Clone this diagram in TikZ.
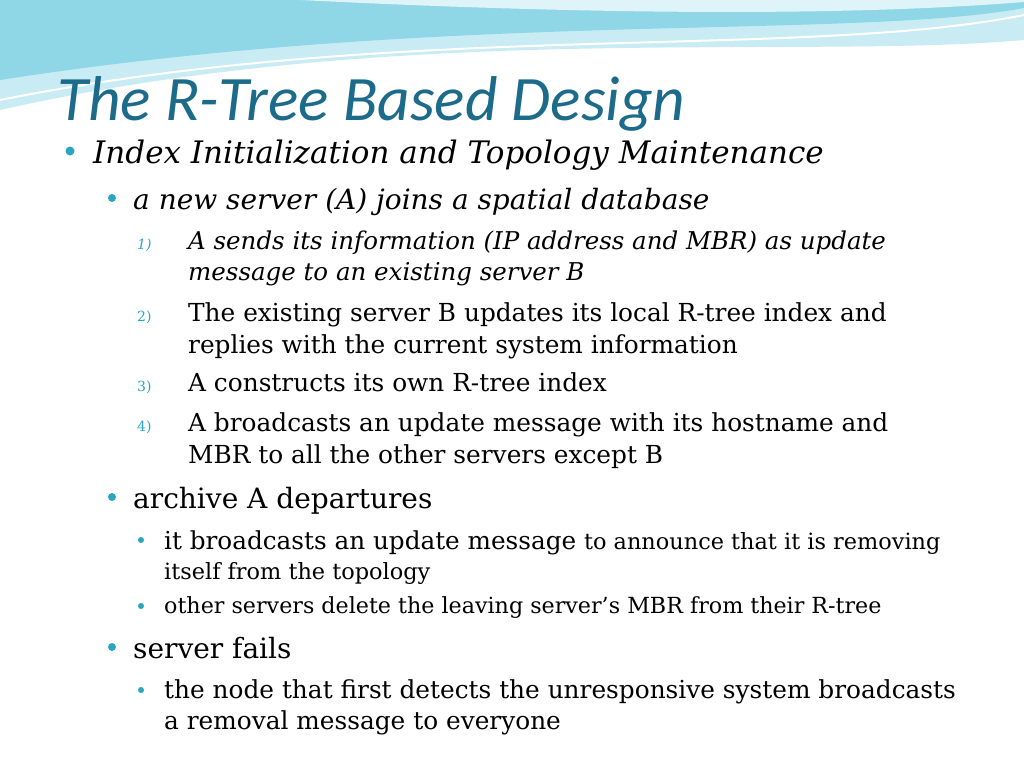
\documentclass[tikz,border=0pt]{standalone}
\usepackage{fontspec}
\setmainfont{DejaVu Serif}
\newfontfamily\titlefont{Carlito}
\begin{document}
\begin{tikzpicture}[x=1pt,y=-1pt,
  tx/.style={anchor=base west,inner sep=0,text=black},
  bul/.style={circle,fill=teal1,inner sep=0},
  num/.style={anchor=base west,inner sep=0,text=teal1,font=\itshape\fontsize{14}{16}\selectfont}]
\definecolor{teal1}{HTML}{2AA6C0}
\definecolor{titlec}{HTML}{1C6B8A}
\definecolor{wave1}{HTML}{8FD6E6}
\definecolor{wave2}{HTML}{C9ECF4}
\useasboundingbox (0,0) rectangle (1024,768);
\fill[white] (0,0) rectangle (1024,768);
% top waves
\fill[wave2] (0,0) -- (1024,0) -- (1024,40) .. controls (800,60) and (400,20) .. (0,110) -- cycle;
\fill[wave1] (0,0) -- (1024,0) -- (1024,8) .. controls (850,40) and (450,10) .. (0,80) -- cycle;
\fill[wave2!60] (300,0) -- (1024,0) -- (1024,2) .. controls (800,20) and (500,10) .. (300,0) -- cycle;
\draw[white,line width=2] (0,100) .. controls (400,20) and (800,60) .. (1024,15);
\node[tx,text=titlec,font=\titlefont\itshape\fontsize{63.3}{66}\selectfont] (title) at (57,120) {The R-Tree Based Design};
\node[bul,minimum size=9] (b1) at (70,151) {};
\node[tx,font=\itshape\fontsize{31}{36}\selectfont] (l1) at (93,163) {Index Initialization and Topology Maintenance};
\node[bul,minimum size=8] (b2) at (112,198) {};
\node[tx,font=\itshape\fontsize{28}{32}\selectfont] (l2) at (133,209) {a new server (A) joins a spatial database};
\node[num] (n1) at (137,249) {1)};
\node[tx,font=\itshape\fontsize{24.5}{28}\selectfont] (t1a) at (188,249) {A sends its information (IP address and MBR) as update};
\node[tx,font=\itshape\fontsize{24.5}{28}\selectfont] (t1b) at (188,280) {message to an existing server B};
\node[num,font=\fontsize{14}{16}\selectfont] (n2) at (137,321) {2)};
\node[tx,font=\fontsize{24.8}{30}\selectfont] (t2a) at (188,321) {The existing server B updates its local R-tree index and};
\node[tx,font=\fontsize{24.8}{30}\selectfont] (t2b) at (188,353) {replies with the current system information};
\node[num,font=\fontsize{14}{16}\selectfont] (n3) at (137,391) {3)};
\node[tx,font=\fontsize{24.8}{30}\selectfont] (t3) at (188,391) {A constructs its own R-tree index};
\node[num,font=\fontsize{14}{16}\selectfont] (n4) at (137,431) {4)};
\node[tx,font=\fontsize{24.8}{30}\selectfont] (t4a) at (188,431) {A broadcasts an update message with its hostname and};
\node[tx,font=\fontsize{24.8}{30}\selectfont] (t4b) at (188,463) {MBR to all the other servers except B};
\node[bul,minimum size=8] (b3) at (112,497) {};
\node[tx,font=\fontsize{28}{32}\selectfont] (l3) at (133,508) {archive A departures};
\node[bul,minimum size=6] (b4) at (141,540) {};
\node[tx,font=\fontsize{24.7}{28}\selectfont] (t5a) at (164,549) {it broadcasts an update message {\fontsize{22.4}{26}\selectfont to announce that it is removing}};
\node[tx,font=\fontsize{22.4}{26}\selectfont] (t5b) at (164,579) {itself from the topology};
\node[bul,minimum size=6] (b5) at (141,606) {};
\node[tx,font=\fontsize{22.2}{26}\selectfont] (t6) at (164,613) {other servers delete the leaving server's MBR from their R-tree};
\node[bul,minimum size=8] (b6) at (112,647) {};
\node[tx,font=\fontsize{28}{32}\selectfont] (l4) at (133,658) {server fails};
\node[bul,minimum size=6] (b7) at (141,690) {};
\node[tx,font=\fontsize{24.8}{28}\selectfont] (t7a) at (164,698) {the node that first detects the unresponsive system broadcasts};
\node[tx,font=\fontsize{24.8}{28}\selectfont] (t7b) at (164,729) {a removal message to everyone};
\end{tikzpicture}
\end{document}
